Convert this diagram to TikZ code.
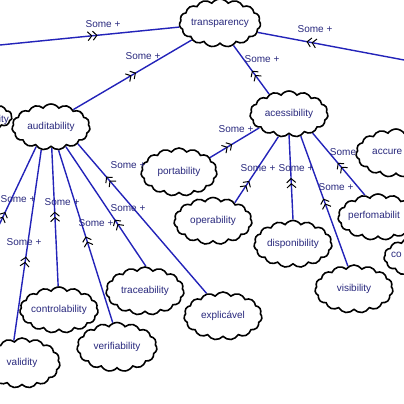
\documentclass[tikz,border=0pt]{standalone}
\usepackage{fontspec}
\setmainfont{Liberation Sans}
\usetikzlibrary{shapes.symbols,arrows.meta,decorations.markings}
\definecolor{linkblue}{RGB}{35,35,185}
\definecolor{txtnavy}{RGB}{40,40,125}
\pgfdeclarelayer{bg}
\pgfsetlayers{bg,main}
\tikzset{
  cl/.style={cloud, cloud puffs=15, cloud puff arc=110, cloud ignores aspect, draw=black, line width=1.6pt, fill=white, inner sep=0pt, text=txtnavy, font=\fontsize{10}{12}\selectfont},
  rel/.style={draw=linkblue, line width=1.4pt, postaction={decorate}, decoration={markings, mark=at position #1 with {\arrow[black,line width=1pt]{Straight Barb[length=4pt,width=9pt] Straight Barb[length=4pt,width=9pt]}}}},
  lab/.style={text=txtnavy, font=\fontsize{10}{12}\selectfont, inner sep=0pt},
  frag/.style={text=txtnavy, font=\fontsize{10}{12}\selectfont, inner sep=0pt},
}
\begin{document}
\begin{tikzpicture}[x=1pt,y=-1pt]
\useasboundingbox (0,0) rectangle (404,404);
\clip (0,0) rectangle (404,404);
% clouds
\node[cl, minimum width=76pt, minimum height=48pt] (tr) at (220,23) {transparency};
\node[cl, minimum width=78pt, minimum height=46pt] (aud) at (51,127) {auditability};
\node[cl, minimum width=78pt, minimum height=46pt] (acc) at (289,114) {acessibility};
\node[cl, minimum width=76pt, minimum height=48pt] (port) at (179,172) {portability};
\node[cl, minimum width=78pt, minimum height=47pt] (oper) at (213,221) {operability};
\node[cl, minimum width=78pt, minimum height=47pt] (disp) at (293,244) {disponibility};
\node[cl, minimum width=78pt, minimum height=48pt] (vis) at (354,289) {visibility};
\node[cl, minimum width=80pt, minimum height=46pt] (perf) at (378,217) {};
\node[frag, anchor=west] (perft) at (348,216) {perfomabilit};
\node[cl, minimum width=80pt, minimum height=48pt] (accur) at (396,153) {};
\node[frag, anchor=west] (accurt) at (372,152) {accure};
\node[cl, minimum width=82pt, minimum height=42pt] (co) at (425,257) {};
\node[frag, anchor=west] (cot) at (391,255) {co};
\node[cl, minimum width=80pt, minimum height=32pt] (ity) at (-28,117) {};
\node[frag, anchor=east] (ityt) at (9,120) {ity};
\node[cl, minimum width=78pt, minimum height=48pt] (trace) at (145,291) {traceability};
\node[cl, minimum width=78pt, minimum height=46pt] (contr) at (59,310) {controlability};
\node[cl, minimum width=80pt, minimum height=49pt] (verif) at (117,347) {verifiability};
\node[cl, minimum width=76pt, minimum height=50pt] (valid) at (22,363) {validity};
\node[cl, minimum width=78pt, minimum height=48pt] (expl) at (223,316) {explicável};
% free ends
\coordinate (offL) at (-20,47);
\coordinate (offR) at (420,63);
\coordinate (offL2) at (-8,240);
% connectors
\begin{pgfonlayer}{bg}
\draw[rel=0.59] (offL) -- (tr);
\draw[rel=0.53] (aud.38) -- (tr.211);
\draw[rel=0.70] (offR) -- (tr.-14);
\draw[rel=0.48] (acc.135) -- (tr.-59);
\draw[rel=0.45] (port.25) -- (acc.205);
\draw[rel=0.33] (oper.40) -- (acc.-115);
\draw[rel=0.49] (disp.90) -- (acc.-90);
\draw[rel=0.52] (vis.105) -- (acc.-62);
\draw[rel=0.52] (perf.121) -- (acc.-39);
\draw[rel=0.30] (offL2) -- (aud.-127);
\draw[rel=0.44] (valid.110) -- (aud.-113);
\draw[rel=0.54] (contr.92) -- (aud.-88);
\draw[rel=0.50] (verif.100) -- (aud.-72);
\draw[rel=0.39] (trace.88) -- (aud.-53);
\draw[rel=0.78] (expl.126) -- (aud.-32);
\end{pgfonlayer}
% labels
\node[lab] (l1) at (103,24) {Some +};
\node[lab] (l2) at (143,56) {Some +};
\node[lab] (l3) at (315,29) {Some +};
\node[lab] (l4) at (262,59) {Some +};
\node[lab] (l5) at (236,129) {Some +};
\node[lab] (l6) at (258,168) {Some +};
\node[lab] (l7) at (296,168) {Some +};
\node[lab] (l8) at (336,187) {Some +};
\node[lab] (l9) at (343,152) {Some};
\node[lab] (l10) at (18,199) {Some +};
\node[lab] (l11) at (24,242) {Some +};
\node[lab] (l12) at (62,202) {Some +};
\node[lab] (l13) at (96,223) {Some +};
\node[lab] (l14) at (128,208) {Some +};
\node[lab] (l15) at (128,165) {Some +};
\end{tikzpicture}
\end{document}
